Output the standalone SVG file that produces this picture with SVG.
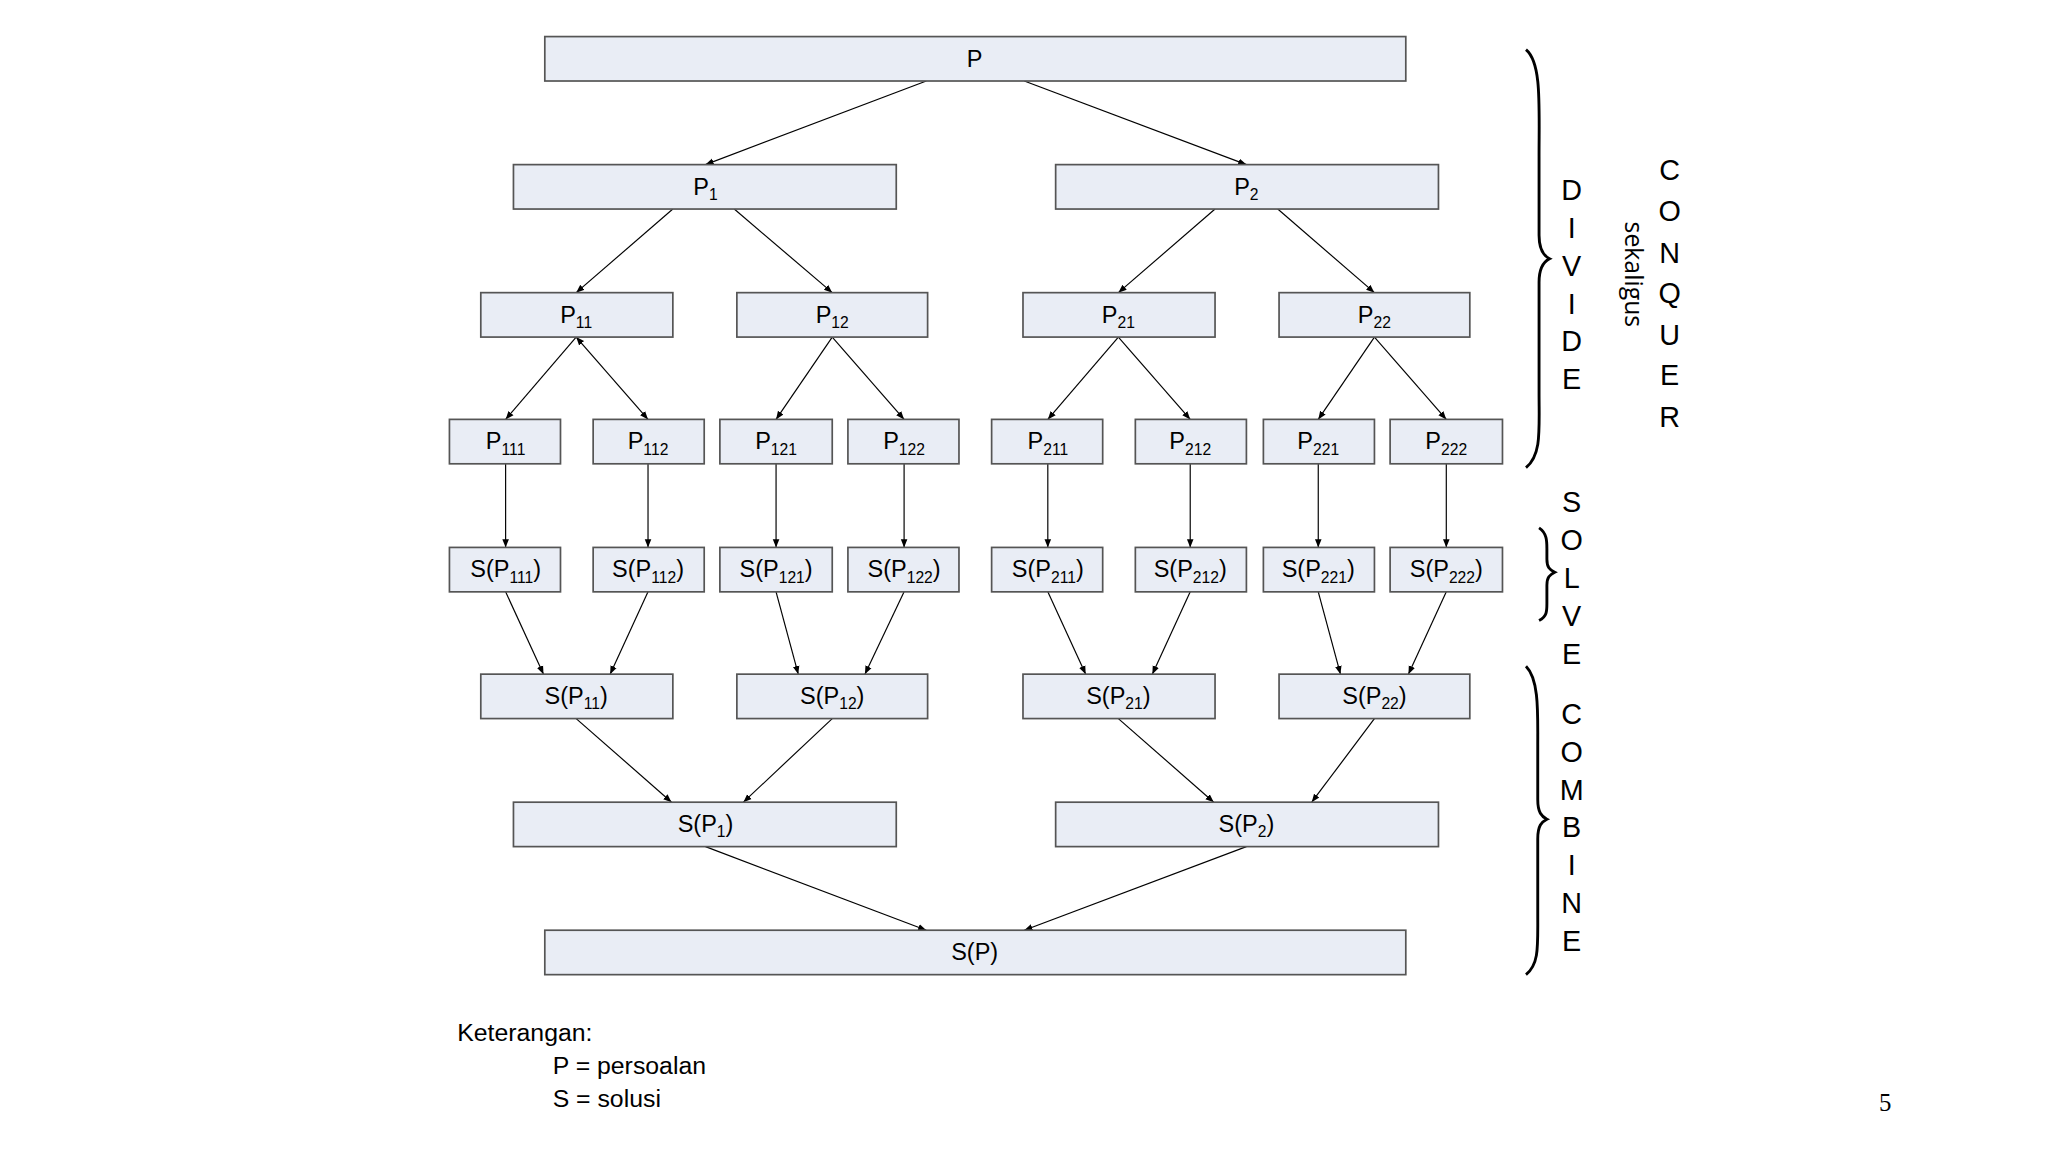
<svg xmlns="http://www.w3.org/2000/svg" width="2048" height="1152" viewBox="0 0 2048 1152">
<style>
.b{fill:#e9edf5;stroke:#555;stroke-width:1.3}
.t{font-family:"Liberation Sans",Arial,sans-serif;font-size:18px;fill:#000;text-anchor:middle}
.s{font-size:12px}
.c line{stroke:#000;stroke-width:0.9;marker-end:url(#a)}
.br{fill:none;stroke:#000;stroke-width:2.2}
.l{font-family:"Liberation Sans",Arial,sans-serif;font-size:22px;text-anchor:middle}
</style>
<defs><marker id="a" viewBox="0 0 10 10" refX="10" refY="5" markerWidth="7" markerHeight="7" orient="auto"><path d="M0,1 L10,5 L0,9 z" fill="#000"/></marker>
<marker id="as" viewBox="0 0 10 10" refX="10" refY="5" markerWidth="7" markerHeight="7" orient="auto-start-reverse"><path d="M0,1 L10,5 L0,9 z" fill="#000"/></marker></defs>
<rect width="2048" height="1152" fill="#fff"/>
<g transform="scale(1.3065)">
<g class="c">
<line x1="709" y1="62" x2="540" y2="126"/><line x1="784" y1="62" x2="954" y2="126"/>
<line x1="515" y1="160" x2="441" y2="224"/><line x1="562" y1="160" x2="637" y2="224"/>
<line x1="930" y1="160" x2="856" y2="224"/><line x1="978" y1="160" x2="1052" y2="224"/>
<line x1="441" y1="258" x2="387" y2="321"/><line x1="441" y1="258" x2="496" y2="321" style="marker-start:url(#as)"/>
<line x1="637" y1="258" x2="594" y2="321"/><line x1="637" y1="258" x2="692" y2="321"/>
<line x1="856" y1="258" x2="802" y2="321"/><line x1="856" y1="258" x2="911" y2="321"/>
<line x1="1052" y1="258" x2="1009" y2="321"/><line x1="1052" y1="258" x2="1107" y2="321"/>
<line x1="387" y1="355" x2="387" y2="419"/><line x1="496" y1="355" x2="496" y2="419"/>
<line x1="594" y1="355" x2="594" y2="419"/><line x1="692" y1="355" x2="692" y2="419"/>
<line x1="802" y1="355" x2="802" y2="419"/><line x1="911" y1="355" x2="911" y2="419"/>
<line x1="1009" y1="355" x2="1009" y2="419"/><line x1="1107" y1="355" x2="1107" y2="419"/>
<line x1="387" y1="453" x2="416" y2="516"/><line x1="496" y1="453" x2="467" y2="516"/>
<line x1="594" y1="453" x2="611" y2="516"/><line x1="692" y1="453" x2="662" y2="516"/>
<line x1="802" y1="453" x2="831" y2="516"/><line x1="911" y1="453" x2="882" y2="516"/>
<line x1="1009" y1="453" x2="1026" y2="516"/><line x1="1107" y1="453" x2="1078" y2="516"/>
<line x1="441" y1="550" x2="514" y2="614"/><line x1="637" y1="550" x2="569" y2="614"/>
<line x1="856" y1="550" x2="929" y2="614"/><line x1="1052" y1="550" x2="1004" y2="614"/>
<line x1="540" y1="648" x2="709" y2="712"/><line x1="954" y1="648" x2="784" y2="712"/>
</g>
<g id="P"><rect class="b" x="417" y="28" width="659" height="34"/><text class="t" x="746" y="51">P</text></g>
<g id="P1"><rect class="b" x="393" y="126" width="293" height="34"/><text class="t" x="540" y="149">P<tspan class="s" dy="4">1</tspan></text></g>
<g id="P2"><rect class="b" x="808" y="126" width="293" height="34"/><text class="t" x="954" y="149">P<tspan class="s" dy="4">2</tspan></text></g>
<g id="P11"><rect class="b" x="368" y="224" width="147" height="34"/><text class="t" x="441" y="247">P<tspan class="s" dy="4">11</tspan></text></g>
<g id="P12"><rect class="b" x="564" y="224" width="146" height="34"/><text class="t" x="637" y="247">P<tspan class="s" dy="4">12</tspan></text></g>
<g id="P21"><rect class="b" x="783" y="224" width="147" height="34"/><text class="t" x="856" y="247">P<tspan class="s" dy="4">21</tspan></text></g>
<g id="P22"><rect class="b" x="979" y="224" width="146" height="34"/><text class="t" x="1052" y="247">P<tspan class="s" dy="4">22</tspan></text></g>
<g id="P111"><rect class="b" x="344" y="321" width="85" height="34"/><text class="t" x="387" y="344">P<tspan class="s" dy="4">111</tspan></text></g>
<g id="P112"><rect class="b" x="454" y="321" width="85" height="34"/><text class="t" x="496" y="344">P<tspan class="s" dy="4">112</tspan></text></g>
<g id="P121"><rect class="b" x="551" y="321" width="86" height="34"/><text class="t" x="594" y="344">P<tspan class="s" dy="4">121</tspan></text></g>
<g id="P122"><rect class="b" x="649" y="321" width="85" height="34"/><text class="t" x="692" y="344">P<tspan class="s" dy="4">122</tspan></text></g>
<g id="P211"><rect class="b" x="759" y="321" width="85" height="34"/><text class="t" x="802" y="344">P<tspan class="s" dy="4">211</tspan></text></g>
<g id="P212"><rect class="b" x="869" y="321" width="85" height="34"/><text class="t" x="911" y="344">P<tspan class="s" dy="4">212</tspan></text></g>
<g id="P221"><rect class="b" x="967" y="321" width="85" height="34"/><text class="t" x="1009" y="344">P<tspan class="s" dy="4">221</tspan></text></g>
<g id="P222"><rect class="b" x="1064" y="321" width="86" height="34"/><text class="t" x="1107" y="344">P<tspan class="s" dy="4">222</tspan></text></g>
<g id="SP111"><rect class="b" x="344" y="419" width="85" height="34"/><text class="t" x="387" y="442">S(P<tspan class="s" dy="4">111</tspan><tspan dy="-4">)</tspan></text></g>
<g id="SP112"><rect class="b" x="454" y="419" width="85" height="34"/><text class="t" x="496" y="442">S(P<tspan class="s" dy="4">112</tspan><tspan dy="-4">)</tspan></text></g>
<g id="SP121"><rect class="b" x="551" y="419" width="86" height="34"/><text class="t" x="594" y="442">S(P<tspan class="s" dy="4">121</tspan><tspan dy="-4">)</tspan></text></g>
<g id="SP122"><rect class="b" x="649" y="419" width="85" height="34"/><text class="t" x="692" y="442">S(P<tspan class="s" dy="4">122</tspan><tspan dy="-4">)</tspan></text></g>
<g id="SP211"><rect class="b" x="759" y="419" width="85" height="34"/><text class="t" x="802" y="442">S(P<tspan class="s" dy="4">211</tspan><tspan dy="-4">)</tspan></text></g>
<g id="SP212"><rect class="b" x="869" y="419" width="85" height="34"/><text class="t" x="911" y="442">S(P<tspan class="s" dy="4">212</tspan><tspan dy="-4">)</tspan></text></g>
<g id="SP221"><rect class="b" x="967" y="419" width="85" height="34"/><text class="t" x="1009" y="442">S(P<tspan class="s" dy="4">221</tspan><tspan dy="-4">)</tspan></text></g>
<g id="SP222"><rect class="b" x="1064" y="419" width="86" height="34"/><text class="t" x="1107" y="442">S(P<tspan class="s" dy="4">222</tspan><tspan dy="-4">)</tspan></text></g>
<g id="SP11"><rect class="b" x="368" y="516" width="147" height="34"/><text class="t" x="441" y="539">S(P<tspan class="s" dy="4">11</tspan><tspan dy="-4">)</tspan></text></g>
<g id="SP12"><rect class="b" x="564" y="516" width="146" height="34"/><text class="t" x="637" y="539">S(P<tspan class="s" dy="4">12</tspan><tspan dy="-4">)</tspan></text></g>
<g id="SP21"><rect class="b" x="783" y="516" width="147" height="34"/><text class="t" x="856" y="539">S(P<tspan class="s" dy="4">21</tspan><tspan dy="-4">)</tspan></text></g>
<g id="SP22"><rect class="b" x="979" y="516" width="146" height="34"/><text class="t" x="1052" y="539">S(P<tspan class="s" dy="4">22</tspan><tspan dy="-4">)</tspan></text></g>
<g id="SP1"><rect class="b" x="393" y="614" width="293" height="34"/><text class="t" x="540" y="637">S(P<tspan class="s" dy="4">1</tspan><tspan dy="-4">)</tspan></text></g>
<g id="SP2"><rect class="b" x="808" y="614" width="293" height="34"/><text class="t" x="954" y="637">S(P<tspan class="s" dy="4">2</tspan><tspan dy="-4">)</tspan></text></g>
<g id="SP"><rect class="b" x="417" y="712" width="659" height="34"/><text class="t" x="746" y="735">S(P)</text></g>
<g id="braces">
<path class="br" d="M1168,38 C1180,48 1178,80 1178,120 L1178,180 C1178,192 1182,196 1186,198 C1182,200 1178,204 1178,216 L1178,300 C1178,330 1180,348 1168,358"/>
<path class="br" d="M1178,404 C1184,408 1184,414 1184,420 L1184,428 C1184,434 1186,436 1190,438 C1186,440 1184,442 1184,448 L1184,462 C1184,468 1184,472 1178,475"/>
<path class="br" d="M1168,510 C1178,520 1177,545 1177,570 L1177,612 C1177,622 1180,625 1184,627 C1180,629 1177,632 1177,642 L1177,700 C1177,725 1178,738 1168,746"/>
</g>
<g id="labels">
<text class="l" x="1203" y="153">D</text><text class="l" x="1203" y="182">I</text><text class="l" x="1203" y="211">V</text><text class="l" x="1203" y="240">I</text><text class="l" x="1203" y="269">D</text><text class="l" x="1203" y="298">E</text>
<text class="l" x="1203" y="392">S</text><text class="l" x="1203" y="421">O</text><text class="l" x="1203" y="450">L</text><text class="l" x="1203" y="479">V</text><text class="l" x="1203" y="508">E</text>
<text class="l" x="1203" y="554">C</text><text class="l" x="1203" y="583">O</text><text class="l" x="1203" y="612">M</text><text class="l" x="1203" y="641">B</text><text class="l" x="1203" y="670">I</text><text class="l" x="1203" y="699">N</text><text class="l" x="1203" y="728">E</text>
<text class="l" x="1278" y="138">C</text><text class="l" x="1278" y="169">O</text><text class="l" x="1278" y="201">N</text><text class="l" x="1278" y="232">Q</text><text class="l" x="1278" y="264">U</text><text class="l" x="1278" y="295">E</text><text class="l" x="1278" y="327">R</text>
<text x="0" y="0" transform="translate(1244,210) rotate(90)" style="font-family:'Open Sans','Noto Sans',sans-serif;font-size:19px;text-anchor:middle">sekaligus</text>
<text x="350" y="797" style="font-family:'Liberation Sans',Arial,sans-serif;font-size:19px">Keterangan:</text>
<text x="423" y="822" style="font-family:'Liberation Sans',Arial,sans-serif;font-size:19px">P = persoalan</text>
<text x="423" y="847" style="font-family:'Liberation Sans',Arial,sans-serif;font-size:19px">S = solusi</text>
<text x="1443" y="850" style="font-family:'Liberation Serif','Times New Roman',serif;font-size:19px;text-anchor:middle">5</text>
</g>
</g>
</svg>
